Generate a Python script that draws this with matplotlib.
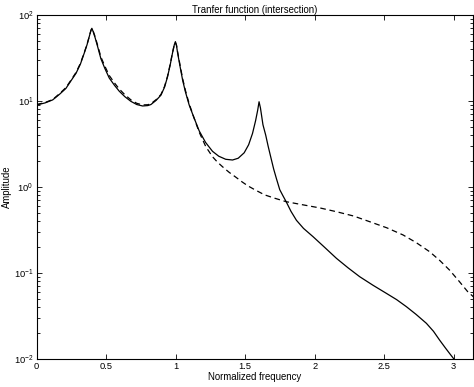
import numpy as np
import matplotlib
matplotlib.use("Agg")
import matplotlib.pyplot as plt
from matplotlib.ticker import LogLocator, NullFormatter

# Solid curve
x_solid = [0.00, 0.06, 0.115, 0.165, 0.21, 0.25, 0.283, 0.315, 0.342, 0.362,
           0.378, 0.390, 0.397, 0.405, 0.421, 0.440, 0.462, 0.49, 0.522, 0.56,
           0.594, 0.635, 0.678, 0.72, 0.762, 0.80, 0.822, 0.86, 0.894, 0.92,
           0.941, 0.96, 0.977, 0.990, 0.998, 1.006, 1.013, 1.03, 1.05, 1.07,
           1.097, 1.13, 1.169, 1.215, 1.265, 1.31, 1.36, 1.409, 1.45, 1.493,
           1.525, 1.553, 1.575, 1.590, 1.600, 1.610, 1.628, 1.648, 1.665, 1.685,
           1.705, 1.725, 1.749, 1.772, 1.795, 1.83, 1.869, 1.92, 1.989, 2.07,
           2.157, 2.24, 2.324, 2.42, 2.516, 2.59, 2.66, 2.73, 2.804, 2.855,
           2.899, 2.94, 2.971, 3.002]
y_solid = [9.0, 9.5, 10.3, 12.0, 14.0, 17.5, 21.0, 27.0, 36.0, 45.0,
           56.0, 66.0, 70.0, 65.0, 54.0, 42.0, 31.0, 24.0, 18.5, 15.2,
           13.0, 11.2, 9.9, 9.1, 8.75, 8.85, 9.1, 10.2, 11.7, 14.5,
           19.0, 26.0, 36.0, 45.0, 49.0, 44.0, 37.0, 26.0, 17.5, 12.8,
           9.0, 6.5, 4.5, 3.3, 2.6, 2.28, 2.1, 2.06, 2.16, 2.5,
           3.1, 4.2, 5.9, 7.8, 9.8, 8.3, 5.3, 4.0, 3.0, 2.2,
           1.62, 1.25, 0.93, 0.79, 0.675, 0.52, 0.41, 0.33, 0.264, 0.20,
           0.148, 0.115, 0.0906, 0.072, 0.058, 0.049, 0.0406, 0.033, 0.026, 0.021,
           0.0166, 0.0135, 0.0116, 0.01]

# Dashed curve
x_dash = [0.00, 0.06, 0.115, 0.165, 0.21, 0.25, 0.283, 0.315, 0.342, 0.362,
          0.378, 0.390, 0.397, 0.405, 0.421, 0.440, 0.462, 0.49, 0.522, 0.56,
          0.594, 0.635, 0.678, 0.72, 0.762, 0.80, 0.822, 0.86, 0.894, 0.92,
          0.941, 0.96, 0.977, 0.990, 0.998, 1.006, 1.013, 1.03, 1.05, 1.07,
          1.097, 1.13, 1.169, 1.217, 1.265, 1.30, 1.337, 1.385, 1.433, 1.48,
          1.52, 1.569, 1.64, 1.713, 1.795, 1.917, 2.04, 2.157, 2.28, 2.396,
          2.52, 2.636, 2.73, 2.827, 2.90, 2.971, 3.04, 3.10, 3.1416]
y_dash = [9.1, 9.6, 10.4, 12.2, 14.3, 17.8, 21.5, 27.5, 36.5, 45.5,
          56.0, 66.0, 70.0, 66.0, 55.5, 43.5, 32.5, 25.5, 19.8, 16.2,
          13.8, 11.8, 10.3, 9.4, 9.0, 9.05, 9.3, 10.4, 11.9, 14.8,
          19.3, 26.5, 36.5, 45.0, 48.0, 44.5, 38.0, 27.0, 18.2, 13.3,
          9.3, 6.5, 4.35, 2.94, 2.25, 1.95, 1.72, 1.48, 1.3, 1.14,
          1.03, 0.93, 0.81, 0.74, 0.675, 0.62, 0.57, 0.516, 0.46, 0.395,
          0.335, 0.277, 0.226, 0.177, 0.14, 0.108, 0.08, 0.061, 0.053]

x_ticks = [0, 0.5, 1, 1.5, 2, 2.5, 3]
x_tick_labels = ["0", "0.5", "1", "1.5", "2", "2.5", "3"]

plt.rcParams['font.family'] = ['Liberation Sans', 'DejaVu Sans']
plt.rcParams['mathtext.fontset'] = 'custom'
plt.rcParams['mathtext.rm'] = 'Liberation Sans'

fig = plt.figure(figsize=(4.74, 3.87), dpi=100)
ax = fig.add_axes([36.7/474, 1 - 359/387, (473.3 - 36.7)/474, (359 - 15)/387])

ax.plot(x_solid, y_solid, color='black', lw=0.9, solid_joinstyle='round')
ax.plot(x_dash, y_dash, color='black', lw=0.9, dashes=(4.5, 3))

ax.set_yscale('log')
ax.set_xlim(0, np.pi)
ax.set_ylim(1e-2, 1e2)
ax.set_xticks(x_ticks)
ax.set_xticklabels(x_tick_labels)
ax.yaxis.set_major_locator(LogLocator(base=10, numticks=10))
ax.yaxis.set_minor_locator(LogLocator(base=10, subs=np.arange(2, 10), numticks=10))
ax.yaxis.set_minor_formatter(NullFormatter())

ax.tick_params(which='both', direction='in', top=True, right=True,
               labelsize=6.7, width=0.6, pad=2.5)
ax.tick_params(which='major', length=3.5)
ax.tick_params(which='minor', length=2)
for s in ax.spines.values():
    s.set_linewidth(0.8)

ax.set_title("Tranfer function (intersection)", fontsize=6.9, pad=0.5)
ax.set_xlabel("Normalized frequency", fontsize=6.9, labelpad=0.5)
ax.set_ylabel("Amplitude", fontsize=6.9, labelpad=1)

fig.savefig("out.png", dpi=100)
